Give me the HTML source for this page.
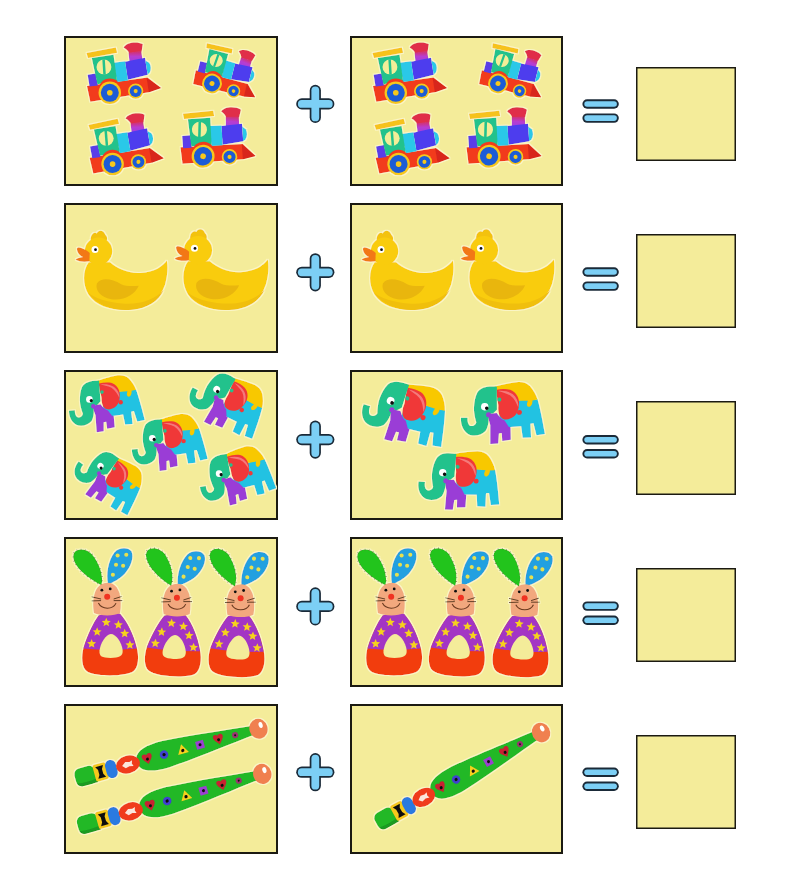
<!DOCTYPE html>
<html><head><meta charset="utf-8"><style>
html,body{margin:0;padding:0;background:#fff;width:800px;height:889px;overflow:hidden;font-family:"Liberation Sans",sans-serif;}
svg{display:block}
</style></head><body>
<svg width="800" height="889" viewBox="0 0 800 889">
<defs><filter id="halo" x="-10%" y="-10%" width="120%" height="120%"><feMorphology in="SourceAlpha" operator="dilate" radius="0.8" result="d"/><feFlood flood-color="#FAF5C6"/><feComposite in2="d" operator="in" result="h"/><feMerge><feMergeNode in="h"/><feMergeNode in="SourceGraphic"/></feMerge></filter>
<linearGradient id="chg" x1="0" y1="0" x2="0" y2="1"><stop offset="0" stop-color="#D8305C"/><stop offset="0.5" stop-color="#B83CD0"/><stop offset="1" stop-color="#A040E0"/></linearGradient>
<g id="train"><g transform="scale(0.1125) translate(-265,-505)">
<polygon points="62,445 600,368 720,462 612,500 92,585" fill="#F23A1E"/>
<polygon points="592,372 720,462 612,500" fill="#D8281A"/>
<polygon points="68,345 140,333 160,440 85,450" fill="#5A3EE8"/>
<path d="M388 102 C410 60 500 42 558 72 L548 138 L437 155 C430 130 410 115 388 102 Z" fill="#E02E4A"/>
<polygon points="432,148 545,132 556,222 440,232" fill="url(#chg)"/>
<polygon points="400,228 578,193 602,345 425,390" fill="#4E3CEE"/>
<path d="M581 218 L615 238 C632 262 634 300 620 325 L601 345 Z" fill="#2CC8E8"/>
<polygon points="296,238 402,225 427,395 330,410" fill="#2CC8E8"/>
<polygon points="105,195 298,166 330,400 155,428" fill="#22C28C"/>
<circle cx="213" cy="275" r="66" fill="#F2EE98"/>
<polygon points="199,210 221,207 229,340 207,343" fill="#22C28C"/>
<polygon points="58,152 318,103 330,148 72,196" fill="#F6C21A"/>
<circle cx="265" cy="478" r="100" fill="#F23A1E"/>
<circle cx="265" cy="505" r="100" fill="#F6C81C"/>
<circle cx="265" cy="505" r="80" fill="#1F5BD6"/>
<circle cx="265" cy="505" r="25" fill="#F6C81C"/>
<circle cx="495" cy="490" r="68" fill="#F6C81C"/>
<circle cx="495" cy="490" r="53" fill="#1F5BD6"/>
<circle cx="495" cy="490" r="18" fill="#F6C81C"/>
</g></g>

<g id="duck"><g transform="scale(0.125) translate(-200,-197)">
<path d="M165 110 C170 70 200 55 215 70 C225 40 270 40 282 80 C300 92 300 120 290 135 L170 150 Z" fill="#F3C20E"/>
<path d="M150 300 C105 360 95 470 150 560 C210 650 340 690 480 680 C620 670 720 600 760 480 C780 410 785 340 775 285 C740 330 680 380 560 385 C460 390 380 350 320 300 Z" fill="#F9CC0A"/>
<path d="M140 540 C220 650 360 690 490 680 C620 670 710 610 750 520 C680 600 560 640 420 630 C300 620 200 590 140 540 Z" fill="#F0BF0E"/>
<ellipse cx="228" cy="212" rx="110" ry="110" fill="#F9CC0A"/>
<path d="M215 470 C250 420 330 430 410 475 C450 495 510 490 550 488 C520 560 430 610 330 595 C240 580 200 520 215 470 Z" fill="#E9B60C"/>
<path d="M55 192 C60 180 75 180 95 188 C120 198 140 210 158 225 L155 292 C115 300 75 296 45 280 C55 268 80 262 105 258 C85 250 60 232 55 192 Z" fill="#F27818"/>
<circle cx="200" cy="197" r="28" fill="#fff"/>
<circle cx="204" cy="199" r="11" fill="#111"/>
</g></g>

<g id="eleph"><g transform="scale(0.1) translate(-219,-281)">
<path d="M350 300 L400 215 L685 182 C720 280 750 400 772 486 L698 503 L664 398 L637 405 L651 527 L577 533 L556 432 L367 459 Z" fill="#22C2E2"/>
<path d="M290 100 C330 85 420 55 502 40 C545 35 583 45 610 70 C640 100 670 140 685 185 L640 195 C645 225 630 255 610 255 C590 250 590 225 600 200 L400 215 Z" fill="#F8C800"/>
<path d="M313 122 C360 110 400 108 435 115 C490 130 520 180 523 230 C525 280 515 320 490 345 C460 375 420 385 395 380 C360 370 340 330 340 270 C340 240 320 200 313 122 Z" fill="#F03838"/>
<circle cx="532" cy="310" r="22" fill="#F03838"/>
<path d="M327 132 C400 120 470 140 500 195 C515 220 520 245 518 265 C500 230 480 190 440 165 C400 145 360 140 327 132 Z" fill="#F47A7A"/>
<path d="M245 345 L330 330 C355 360 375 385 405 392 L445 445 L462 447 L472 560 L397 575 L387 505 L362 510 L362 600 L292 610 L280 440 Z" fill="#9A3CD6"/>
<path d="M300 95 C230 95 170 110 145 160 C127 200 124 250 124 292 C124 330 140 390 154 424 C150 455 115 470 95 457 C80 445 73 420 73 390 L15 395 C15 440 30 500 88 534 C130 555 200 545 241 497 C258 470 265 420 262 385 L258 345 L300 335 L330 300 L315 95 Z" fill="#22C28C"/>
<circle cx="345" cy="208" r="18" fill="#22C28C"/>
<circle cx="258" cy="350" r="22" fill="#9A3CD6"/>
<circle cx="219" cy="281" r="33" fill="#fff"/>
<circle cx="238" cy="293" r="16" fill="#111"/>
</g></g>

<g id="bunnyears"><g transform="scale(0.1575) translate(-232,-360)">
<path d="M198 288 C210 230 190 160 140 95 C110 60 50 50 25 80 C5 110 30 160 70 200 C110 240 160 270 198 288 Z" fill="#22C41E" stroke="#5a7a28" stroke-width="12" stroke-dasharray="4 22"/>
<path d="M240 282 C225 220 240 130 280 80 C310 45 370 45 388 75 C405 110 385 170 345 215 C310 250 270 270 240 282 Z" fill="#22A0E0"/>
<circle cx="300" cy="100" r="13" fill="#E8E050"/><circle cx="355" cy="95" r="13" fill="#E8E050"/>
<circle cx="290" cy="158" r="13" fill="#E8E050"/><circle cx="335" cy="165" r="13" fill="#E8E050"/>
<circle cx="270" cy="222" r="13" fill="#E8E050"/>
</g></g>
<g id="bunnyhead"><g transform="scale(0.1575) translate(-232,-360)">
<path d="M238 272 C275 272 300 300 312 340 C322 380 322 430 315 465 C280 485 190 485 150 465 C142 420 142 370 160 325 C175 290 205 272 238 272 Z" fill="#F2A87E"/>
<circle cx="200" cy="320" r="9" fill="#111"/><circle cx="253" cy="312" r="9" fill="#111"/>
<circle cx="234" cy="361" r="19" fill="#F03020"/>
<path d="M178 402 C200 445 270 445 290 402" fill="none" stroke="#6a3a20" stroke-width="7"/>
<path d="M135 362 L195 376 M135 388 L195 386 M275 376 L325 360 M275 386 L330 386" stroke="#5a3a20" stroke-width="6"/>
</g></g>
<g id="bunnybody"><g transform="scale(0.1575) translate(-232,-360)">
<path d="M180 480 C220 470 280 465 315 470 C360 520 400 600 420 680 C438 740 432 810 400 835 C350 870 150 870 105 835 C72 810 68 740 85 680 C110 600 150 520 180 480 Z" fill="#F23C10"/>
<path d="M180 480 C220 470 280 465 315 470 C360 520 400 600 421 690 C300 700 200 700 83 690 C110 600 150 520 180 480 Z" fill="#A334C4"/>
<polygon points="228.0,495.0 235.9,514.1 256.5,515.7 240.8,529.2 245.6,549.3 228.0,538.5 210.4,549.3 215.2,529.2 199.5,515.7 220.1,514.1" fill="#F6D21E"/><polygon points="305.0,510.0 312.9,529.1 333.5,530.7 317.8,544.2 322.6,564.3 305.0,553.5 287.4,564.3 292.2,544.2 276.5,530.7 297.1,529.1" fill="#F6D21E"/><polygon points="170.0,555.0 177.9,574.1 198.5,575.7 182.8,589.2 187.6,609.3 170.0,598.5 152.4,609.3 157.2,589.2 141.5,575.7 162.1,574.1" fill="#F6D21E"/><polygon points="345.0,565.0 352.9,584.1 373.5,585.7 357.8,599.2 362.6,619.3 345.0,608.5 327.4,619.3 332.2,599.2 316.5,585.7 337.1,584.1" fill="#F6D21E"/><polygon points="135.0,630.0 142.9,649.1 163.5,650.7 147.8,664.2 152.6,684.3 135.0,673.5 117.4,684.3 122.2,664.2 106.5,650.7 127.1,649.1" fill="#F6D21E"/><polygon points="378.0,638.0 385.9,657.1 406.5,658.7 390.8,672.2 395.6,692.3 378.0,681.5 360.4,692.3 365.2,672.2 349.5,658.7 370.1,657.1" fill="#F6D21E"/>
<path d="M257 598 C225 598 190 660 185 703 C182 740 200 750 255 750 C310 750 335 740 332 700 C325 650 290 598 257 598 Z" fill="#F4EC9A"/>
</g></g>

<g id="flute">
<path d="M65 0 C65 -10 76 -14 95 -13.5 C130 -11 160 -7 184 -4.5 L184 4.5 C160 7 130 11 95 13.5 C76 14 65 10 65 0 Z" fill="#22B826"/>
<rect x="2" y="-9" width="21" height="18" rx="6" ry="6" fill="#22B826"/><path d="M23 5 L23 9 L8 9 C5 9 3 7.5 2.5 5 C9 6 16 6 23 5 Z" fill="#1A9A20"/>
<rect x="21.5" y="-8.5" width="13" height="17" rx="2" fill="#F6C81C"/>
<path d="M24 -6 L32 -6 L30 -2.5 L30 2.5 L32 6 L24 6 L26 2.5 L26 -2.5 Z" fill="#111"/>
<rect x="33.5" y="-9" width="11" height="18" rx="5" ry="6" fill="#2A7AE0"/>
<ellipse cx="56" cy="0" rx="12" ry="8.8" fill="#F03A1A"/>
<path d="M50 0 L54 -3 L58 -2 L61 -3 L60 0 L61 3 L57 2 L53 3 Z" fill="#FBE6DC"/>
<ellipse cx="190" cy="0" rx="9" ry="10" fill="#F08050"/>
<ellipse cx="193" cy="-3" rx="2" ry="3" fill="#fff"/>
<path d="M71 -3 C71 -6 75 -6 76 -4 C77 -6 81 -6 81 -3 C81 0 77 3 76 5 C75 3 71 0 71 -3 Z" fill="#C82030"/><circle cx="76" cy="0" r="1.5" fill="#111"/>
<circle cx="93" cy="0" r="4.2" fill="#4040D0"/><circle cx="93" cy="0" r="1.6" fill="#111"/>
<polygon points="112,-5.5 117.5,4 106.5,4" fill="#F6D21E"/><circle cx="112" cy="1" r="1.6" fill="#111"/>
<rect x="126" y="-4" width="8" height="8" fill="#9A40D0"/><circle cx="130" cy="0" r="1.5" fill="#111"/>
<path d="M144 -3 C144 -6 148 -6 149 -4 C150 -6 154 -6 154 -3 C154 0 150 3 149 5 C148 3 144 0 144 -3 Z" fill="#C82030"/><circle cx="149" cy="0" r="1.5" fill="#111"/>
<circle cx="166" cy="0" r="3" fill="#9A3070"/><circle cx="166" cy="0" r="1" fill="#111"/>
</g>
</defs>
<rect x="65.0" y="37.0" width="212" height="148" fill="#F4EC9A" stroke="#1b1a12" stroke-width="2"/><rect x="351.0" y="37.0" width="211" height="148" fill="#F4EC9A" stroke="#1b1a12" stroke-width="2"/><rect x="636.75" y="67.75" width="98.5" height="92.5" fill="#F4EC9A" stroke="#1b1a12" stroke-width="1.5"/><g stroke="#1a2a38" stroke-width="11.2" stroke-linecap="round"><line x1="315.3" y1="90.4" x2="315.3" y2="117.4"/><line x1="301.8" y1="103.9" x2="328.8" y2="103.9"/></g><g stroke="#7CCFF5" stroke-width="7.8" stroke-linecap="round"><line x1="315.3" y1="90.4" x2="315.3" y2="117.4"/><line x1="301.8" y1="103.9" x2="328.8" y2="103.9"/></g><line x1="587.1" y1="104.0" x2="614.1" y2="104.0" stroke="#1a2a38" stroke-width="9.4" stroke-linecap="round"/><line x1="587.1" y1="104.0" x2="614.1" y2="104.0" stroke="#7CCFF5" stroke-width="5.6" stroke-linecap="round"/><line x1="587.1" y1="118.10000000000001" x2="614.1" y2="118.10000000000001" stroke="#1a2a38" stroke-width="9.4" stroke-linecap="round"/><line x1="587.1" y1="118.10000000000001" x2="614.1" y2="118.10000000000001" stroke="#7CCFF5" stroke-width="5.6" stroke-linecap="round"/><rect x="65.0" y="204.0" width="212" height="148" fill="#F4EC9A" stroke="#1b1a12" stroke-width="2"/><rect x="351.0" y="204.0" width="211" height="148" fill="#F4EC9A" stroke="#1b1a12" stroke-width="2"/><rect x="636.75" y="234.75" width="98.5" height="92.5" fill="#F4EC9A" stroke="#1b1a12" stroke-width="1.5"/><g stroke="#1a2a38" stroke-width="11.2" stroke-linecap="round"><line x1="315.3" y1="258.8" x2="315.3" y2="285.8"/><line x1="301.8" y1="272.3" x2="328.8" y2="272.3"/></g><g stroke="#7CCFF5" stroke-width="7.8" stroke-linecap="round"><line x1="315.3" y1="258.8" x2="315.3" y2="285.8"/><line x1="301.8" y1="272.3" x2="328.8" y2="272.3"/></g><line x1="587.1" y1="272.0" x2="614.1" y2="272.0" stroke="#1a2a38" stroke-width="9.4" stroke-linecap="round"/><line x1="587.1" y1="272.0" x2="614.1" y2="272.0" stroke="#7CCFF5" stroke-width="5.6" stroke-linecap="round"/><line x1="587.1" y1="286.09999999999997" x2="614.1" y2="286.09999999999997" stroke="#1a2a38" stroke-width="9.4" stroke-linecap="round"/><line x1="587.1" y1="286.09999999999997" x2="614.1" y2="286.09999999999997" stroke="#7CCFF5" stroke-width="5.6" stroke-linecap="round"/><rect x="65.0" y="371.0" width="212" height="148" fill="#F4EC9A" stroke="#1b1a12" stroke-width="2"/><rect x="351.0" y="371.0" width="211" height="148" fill="#F4EC9A" stroke="#1b1a12" stroke-width="2"/><rect x="636.75" y="401.75" width="98.5" height="92.5" fill="#F4EC9A" stroke="#1b1a12" stroke-width="1.5"/><g stroke="#1a2a38" stroke-width="11.2" stroke-linecap="round"><line x1="315.3" y1="426.1" x2="315.3" y2="453.1"/><line x1="301.8" y1="439.6" x2="328.8" y2="439.6"/></g><g stroke="#7CCFF5" stroke-width="7.8" stroke-linecap="round"><line x1="315.3" y1="426.1" x2="315.3" y2="453.1"/><line x1="301.8" y1="439.6" x2="328.8" y2="439.6"/></g><line x1="587.1" y1="439.70000000000005" x2="614.1" y2="439.70000000000005" stroke="#1a2a38" stroke-width="9.4" stroke-linecap="round"/><line x1="587.1" y1="439.70000000000005" x2="614.1" y2="439.70000000000005" stroke="#7CCFF5" stroke-width="5.6" stroke-linecap="round"/><line x1="587.1" y1="453.8" x2="614.1" y2="453.8" stroke="#1a2a38" stroke-width="9.4" stroke-linecap="round"/><line x1="587.1" y1="453.8" x2="614.1" y2="453.8" stroke="#7CCFF5" stroke-width="5.6" stroke-linecap="round"/><rect x="65.0" y="538.0" width="212" height="148" fill="#F4EC9A" stroke="#1b1a12" stroke-width="2"/><rect x="351.0" y="538.0" width="211" height="148" fill="#F4EC9A" stroke="#1b1a12" stroke-width="2"/><rect x="636.75" y="568.75" width="98.5" height="92.5" fill="#F4EC9A" stroke="#1b1a12" stroke-width="1.5"/><g stroke="#1a2a38" stroke-width="11.2" stroke-linecap="round"><line x1="315.3" y1="592.9" x2="315.3" y2="619.9"/><line x1="301.8" y1="606.4" x2="328.8" y2="606.4"/></g><g stroke="#7CCFF5" stroke-width="7.8" stroke-linecap="round"><line x1="315.3" y1="592.9" x2="315.3" y2="619.9"/><line x1="301.8" y1="606.4" x2="328.8" y2="606.4"/></g><line x1="587.1" y1="606.1" x2="614.1" y2="606.1" stroke="#1a2a38" stroke-width="9.4" stroke-linecap="round"/><line x1="587.1" y1="606.1" x2="614.1" y2="606.1" stroke="#7CCFF5" stroke-width="5.6" stroke-linecap="round"/><line x1="587.1" y1="620.2" x2="614.1" y2="620.2" stroke="#1a2a38" stroke-width="9.4" stroke-linecap="round"/><line x1="587.1" y1="620.2" x2="614.1" y2="620.2" stroke="#7CCFF5" stroke-width="5.6" stroke-linecap="round"/><rect x="65.0" y="705.0" width="212" height="148" fill="#F4EC9A" stroke="#1b1a12" stroke-width="2"/><rect x="351.0" y="705.0" width="211" height="148" fill="#F4EC9A" stroke="#1b1a12" stroke-width="2"/><rect x="636.75" y="735.75" width="98.5" height="92.5" fill="#F4EC9A" stroke="#1b1a12" stroke-width="1.5"/><g stroke="#1a2a38" stroke-width="11.2" stroke-linecap="round"><line x1="315.3" y1="758.7" x2="315.3" y2="785.7"/><line x1="301.8" y1="772.2" x2="328.8" y2="772.2"/></g><g stroke="#7CCFF5" stroke-width="7.8" stroke-linecap="round"><line x1="315.3" y1="758.7" x2="315.3" y2="785.7"/><line x1="301.8" y1="772.2" x2="328.8" y2="772.2"/></g><line x1="587.1" y1="772.2" x2="614.1" y2="772.2" stroke="#1a2a38" stroke-width="9.4" stroke-linecap="round"/><line x1="587.1" y1="772.2" x2="614.1" y2="772.2" stroke="#7CCFF5" stroke-width="5.6" stroke-linecap="round"/><line x1="587.1" y1="786.3000000000001" x2="614.1" y2="786.3000000000001" stroke="#1a2a38" stroke-width="9.4" stroke-linecap="round"/><line x1="587.1" y1="786.3000000000001" x2="614.1" y2="786.3000000000001" stroke="#7CCFF5" stroke-width="5.6" stroke-linecap="round"/><g filter="url(#halo)"><use href="#train" transform="translate(109.80,92.80) rotate(0) scale(1)"/></g><g filter="url(#halo)"><use href="#train" transform="translate(212.00,83.50) rotate(23) scale(0.88)"/></g><g filter="url(#halo)"><use href="#train" transform="translate(203.10,156.25) rotate(5) scale(1.02)"/></g><g filter="url(#halo)"><use href="#train" transform="translate(112.60,164.10) rotate(-1.2) scale(1)"/></g><g filter="url(#halo)"><use href="#train" transform="translate(395.80,92.80) rotate(0) scale(1)"/></g><g filter="url(#halo)"><use href="#train" transform="translate(498.00,83.50) rotate(23) scale(0.88)"/></g><g filter="url(#halo)"><use href="#train" transform="translate(489.10,156.25) rotate(5) scale(1.02)"/></g><g filter="url(#halo)"><use href="#train" transform="translate(398.60,164.10) rotate(-1.2) scale(1)"/></g><g filter="url(#halo)"><use href="#duck" transform="translate(95.00,249.40) rotate(0) scale(1)"/></g><g filter="url(#halo)"><use href="#duck" transform="translate(194.50,248.20) rotate(0) scale(1.02)"/></g><g filter="url(#halo)"><use href="#duck" transform="translate(381.00,249.40) rotate(0) scale(1)"/></g><g filter="url(#halo)"><use href="#duck" transform="translate(480.50,248.20) rotate(0) scale(1.02)"/></g><g filter="url(#halo)"><use href="#eleph" transform="translate(89.40,399.40) rotate(0) scale(1)"/></g><g filter="url(#halo)"><use href="#eleph" transform="translate(216.70,389.40) rotate(34) scale(1.03)"/></g><g filter="url(#halo)"><use href="#eleph" transform="translate(152.30,438.20) rotate(0) scale(1)"/></g><g filter="url(#halo)"><use href="#eleph" transform="translate(100.50,466.00) rotate(41) scale(0.95)"/></g><g filter="url(#halo)"><use href="#eleph" transform="translate(219.10,473.60) rotate(-6) scale(1.0)"/></g><g filter="url(#halo)"><use href="#eleph" transform="translate(390.60,400.80) rotate(22) scale(1.16)"/></g><g filter="url(#halo)"><use href="#eleph" transform="translate(484.70,406.70) rotate(4) scale(1.12)"/></g><g filter="url(#halo)"><use href="#eleph" transform="translate(442.70,472.60) rotate(9) scale(1.1)"/></g><g filter="url(#halo)"><g transform="translate(106.9,596.5)"><use href="#bunnyears" transform="rotate(0 -2 -12)"/><use href="#bunnybody" transform="translate(0,0) rotate(0 2.8 18.1)"/><use href="#bunnyhead"/></g></g><g filter="url(#halo)"><g transform="translate(176.6,597.5)"><use href="#bunnyears" transform="rotate(6 -2 -12)"/><use href="#bunnybody" transform="translate(-4,0) rotate(4 2.8 18.1)"/><use href="#bunnyhead"/></g></g><g filter="url(#halo)"><g transform="translate(240.3,598.1)"><use href="#bunnyears" transform="rotate(6 -2 -12)"/><use href="#bunnybody" transform="translate(-4,0) rotate(4 2.8 18.1)"/><use href="#bunnyhead"/></g></g><g filter="url(#halo)"><g transform="translate(390.9,596.5)"><use href="#bunnyears" transform="rotate(0 -2 -12)"/><use href="#bunnybody" transform="translate(0,0) rotate(0 2.8 18.1)"/><use href="#bunnyhead"/></g></g><g filter="url(#halo)"><g transform="translate(460.6,597.5)"><use href="#bunnyears" transform="rotate(6 -2 -12)"/><use href="#bunnybody" transform="translate(-4,0) rotate(4 2.8 18.1)"/><use href="#bunnyhead"/></g></g><g filter="url(#halo)"><g transform="translate(524.3,598.1)"><use href="#bunnyears" transform="rotate(6 -2 -12)"/><use href="#bunnybody" transform="translate(-4,0) rotate(4 2.8 18.1)"/><use href="#bunnyhead"/></g></g><g filter="url(#halo)"><use href="#flute" transform="translate(73.40,779.40) rotate(-15.3) scale(1.01)"/></g><g filter="url(#halo)"><use href="#flute" transform="translate(75.90,827.00) rotate(-15.9) scale(1.02)"/></g><g filter="url(#halo)"><use href="#flute" transform="translate(374.70,824.40) rotate(-28.9) scale(1)"/></g>
</svg>
</body></html>
